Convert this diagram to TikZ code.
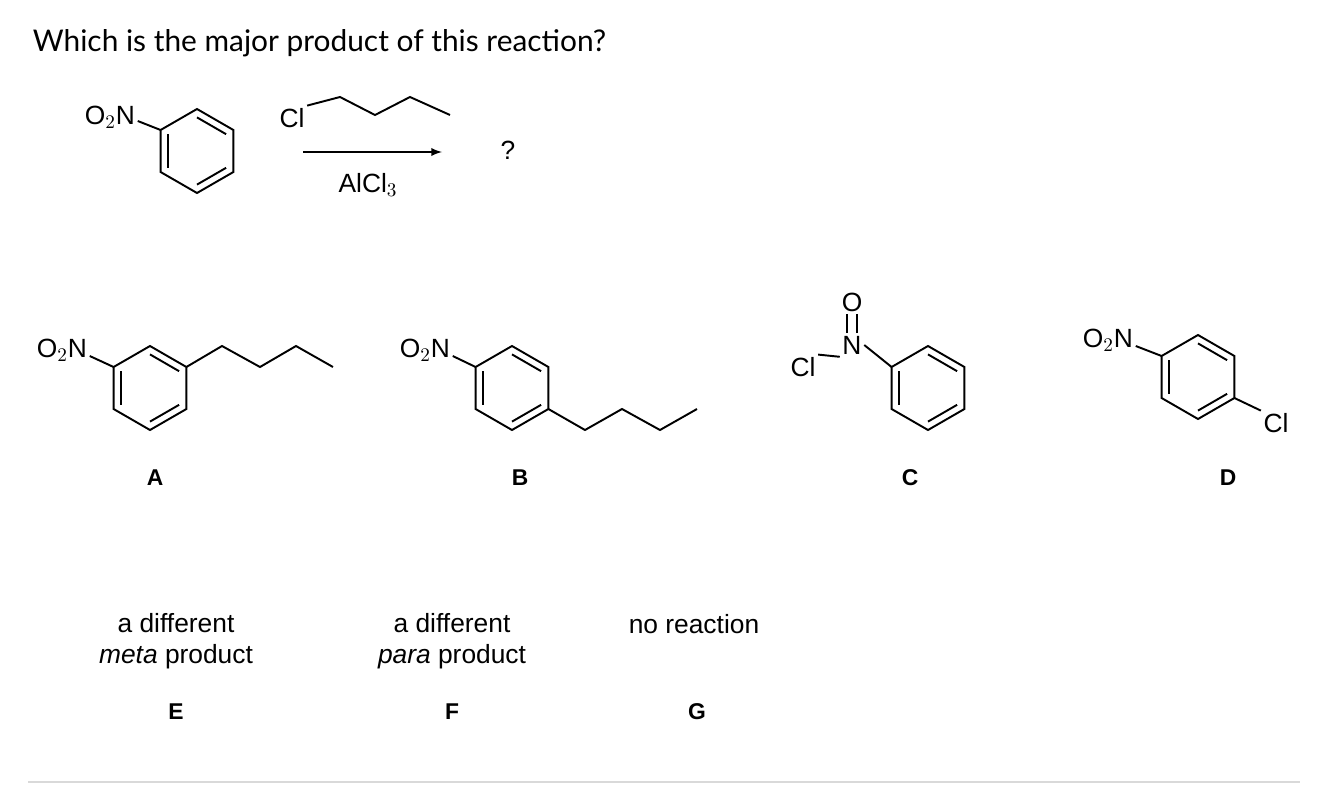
\documentclass[tikz,border=0pt]{standalone}
\usepackage{fontspec}
\usetikzlibrary{calc}
\setmainfont{Liberation Sans}
\newfontfamily\latofont{Lato}
\newcommand\ring[3]{%
  \coordinate (#1t) at (#2,#3-42); \coordinate (#1ur) at (#2+36.4,#3-21);
  \coordinate (#1lr) at (#2+36.4,#3+21); \coordinate (#1b) at (#2,#3+42);
  \coordinate (#1ll) at (#2-36.4,#3+21); \coordinate (#1ul) at (#2-36.4,#3-21);
  \coordinate (#1c) at (#2,#3);
  \draw (#1t)--(#1ur)--(#1lr)--(#1b)--(#1ll)--(#1ul)--cycle;
  \draw ($(#1c)!0.8!(#1t)$)--($(#1c)!0.8!(#1ur)$);
  \draw ($(#1c)!0.8!(#1lr)$)--($(#1c)!0.8!(#1b)$);
  \draw ($(#1c)!0.8!(#1ll)$)--($(#1c)!0.8!(#1ul)$);}
\begin{document}
\begin{tikzpicture}[x=0.02cm,y=-0.02cm,line width=1.1pt,
  lbl/.style={inner sep=1pt,font=\fontsize{15}{18}\selectfont},
  letter/.style={font=\bfseries\fontsize{13}{16}\selectfont},
  txt/.style={font=\fontsize{15}{18}\selectfont}]
\useasboundingbox (0,0) rectangle (1326,788);
\node[anchor=west,font=\latofont\fontsize{17}{20}\selectfont] (title) at (26,43) {Which is the major product of this reaction?};
% reactant
\ring{r}{197}{151}
\node[lbl] (rn) at (110,117) {O$_2$N};
\draw (rn.east)++(0,4) -- (rul);
\node[lbl] (cl) at (292,118) {Cl};
\coordinate (c1) at (340,97); \coordinate (c2) at (375,115); \coordinate (c3) at (410,97); \coordinate (c4) at (450,115);
\draw (cl.north east) -- (c1) -- (c2) -- (c3) -- (c4);
\coordinate (a1) at (303,152); \coordinate (a2) at (442,152);
\draw[-latex] (a1) -- (a2);
\node[lbl] (alcl) at (368,185) {AlCl$_3$};
\node[lbl] (q) at (508,150) {?};
% A
\ring{a}{150}{388}
\node[lbl] (an) at (62,350) {O$_2$N};
\draw (an.east)++(0,6) -- (aul);
\coordinate (ac1) at (222,346); \coordinate (ac2) at (260,367); \coordinate (ac3) at (296,346); \coordinate (ac4) at (333,367);
\draw (aur)--(ac1)--(ac2)--(ac3)--(ac4);
\node[letter] (la) at (155,478) {A};
% B
\ring{b}{512}{388}
\node[lbl] (bn) at (425,350) {O$_2$N};
\draw (bn.east)++(0,6) -- (bul);
\coordinate (bc1) at (585,430); \coordinate (bc2) at (622,409); \coordinate (bc3) at (660,430); \coordinate (bc4) at (697,409);
\draw (blr)--(bc1)--(bc2)--(bc3)--(bc4);
\node[letter] (lb) at (520,478) {B};
% C
\ring{c}{928}{388}
\node[lbl] (cn) at (852,345) {N};
\node[lbl] (co) at (852,302) {O};
\node[lbl] (ccl) at (803,367) {Cl};
\draw ([xshift=-3]cn.north) -- ([xshift=-3]co.south);
\draw ([xshift=3]cn.north) -- ([xshift=3]co.south);
\draw (cn.east) -- (cul);
\draw (ccl.north east) -- (cn.south west);
\node[letter] (lc) at (910,478) {C};
% D
\ring{d}{1198}{377}
\node[lbl] (dn) at (1108,340) {O$_2$N};
\draw (dn.east)++(0,6) -- (dul);
\node[lbl] (dcl) at (1276,423) {Cl};
\draw (dlr) -- (dcl.north west);
\node[letter] (ld) at (1228,478) {D};
% E F G
\node[txt,align=center] (e) at (176,641) {a different\\\textit{meta} product};
\node[letter] (le) at (176,712) {E};
\node[txt,align=center] (f) at (452,641) {a different\\\textit{para} product};
\node[letter] (lf) at (452,712) {F};
\node[txt] (g) at (694,624) {no reaction};
\node[letter] (lg) at (697,712) {G};
\coordinate (h1) at (28,782); \coordinate (h2) at (1300,782);
\draw[line width=0.8pt,black!15] (h1) -- (h2);
\end{tikzpicture}
\end{document}
